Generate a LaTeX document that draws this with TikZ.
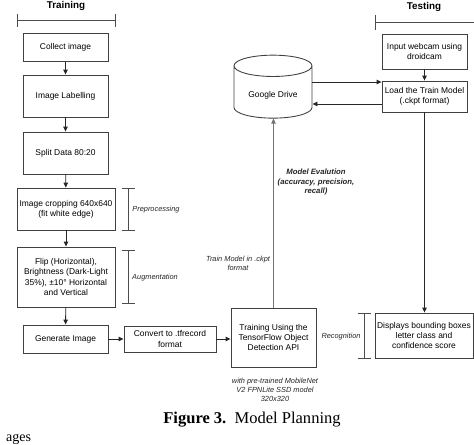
\documentclass[tikz,border=0pt]{standalone}
\usepackage{fontspec}
\setsansfont{Liberation Sans}
\newfontfamily\capfont{Liberation Serif}
\usepackage{tikz}
\usetikzlibrary{arrows.meta, positioning, shapes.geometric}

\begin{document}
\begin{tikzpicture}[
    x=0.02cm, y=-0.02cm,
    font=\sffamily\fontsize{4.8}{5.8}\selectfont,
    box/.style={draw=black!75, line width=0.5pt, align=center, inner sep=1pt},
    db/.style={draw=black!75, line width=0.5pt, cylinder, shape border rotate=90, aspect=0.35, minimum width=1.56cm, minimum height=1.26cm},
    arr/.style={-{Triangle[length=0.1cm, width=0.09cm]}, line width=0.5pt, black!85},
    brk/.style={{Bar[width=0.26cm]}-{Bar[width=0.26cm]}, line width=0.5pt, black!70},
    note/.style={font=\sffamily\itshape\fontsize{4.2}{5.2}\selectfont, align=center, black!85},
    head/.style={font=\sffamily\bfseries\fontsize{5.6}{6.6}\selectfont},
]
\useasboundingbox (0,0) rectangle (474,444);

% --- Training column (left) ---
\node[box, minimum width=1.7cm, minimum height=0.56cm] (collect) at (65.5, 47.5) {Collect image};
\node[box, minimum width=1.7cm, minimum height=0.84cm] (label) at (65.5, 96) {Image Labelling};
\node[box, minimum width=1.7cm, minimum height=0.84cm] (split) at (65.5, 153) {Split Data 80:20};
\node[box, minimum width=1.96cm, minimum height=0.84cm] (crop) at (66, 209) {Image cropping 640x640 \\ (fit white edge)};
\node[box, minimum width=1.96cm, minimum height=1.2cm] (flip) at (66, 277) {Flip (Horizontal), \\ Brightness (Dark-Light \\ 35\%), ±10° Horizontal \\ and Vertical};
\node[box, minimum width=1.7cm, minimum height=0.56cm] (gen) at (65.5, 339) {Generate Image};
\node[box, minimum width=1.84cm, minimum height=0.52cm] (conv) at (170, 339) {Convert to .tfrecord \\ format};
\node[box, minimum width=1.7cm, minimum height=1.18cm] (train) at (273.5, 337.5) {Training Using the \\ TensorFlow Object \\ Detection API};

% --- Storage ---
\node[db] (drive) at (273, 95) {Google Drive};

% --- Testing column (right) ---
\node[box, minimum width=1.7cm, minimum height=0.7cm] (input) at (424.5, 51.5) {Input webcam using \\ droidcam};
\node[box, minimum width=1.7cm, minimum height=0.62cm] (load) at (424.5, 96.5) {Load the Train Model \\ (.ckpt format)};
\node[box, minimum width=1.96cm, minimum height=0.9cm] (disp) at (424, 335.5) {Displays bounding boxes \\ letter class and \\ confidence score};

% --- Headers ---
\node[head] (trainhead) at (66, 6) {Training};
\node[head] (testhead) at (424, 7) {Testing};
\draw[brk] ([yshift=0.26cm]crop.west |- collect.north) -- ([yshift=0.26cm]crop.east |- collect.north);
\draw[{Bar[width=0.3cm]}-, line width=0.5pt, black!70] ([yshift=0.22cm]disp.west |- input.north) -- ([yshift=0.22cm,xshift=0.04cm]disp.east |- input.north);

% --- Main flow ---
\draw[arr] (collect) -- (label);
\draw[arr] (label) -- (split);
\draw[arr] (split) -- (crop);
\draw[arr] (crop) -- (flip);
\draw[arr] (flip) -- (gen);
\draw[arr] (gen) -- (conv);
\draw[arr] (conv.east) -- (conv.east -| train.west);
\draw[arr, black!55] (train.north) -- (train.north |- drive.south);
\coordinate (dout) at ([yshift=0.26cm]drive.east);
\coordinate (din) at ([yshift=-0.18cm]drive.east);
\draw[arr] (dout) -- (dout -| load.west);
\draw[arr] (din -| load.west) -- (din);
\draw[arr] (input) -- (load);
\draw[arr] (load.south) -- (load.south |- disp.north);

% --- Stage brackets ---
\draw[brk] ([xshift=0.26cm]crop.north east) -- ([xshift=0.26cm]crop.south east);
\draw[brk] ([xshift=0.26cm,yshift=-0.06cm]flip.north east) -- ([xshift=0.26cm,yshift=0.08cm]flip.south east);
\draw[brk] ([xshift=-0.2cm]disp.north west) -- ([xshift=-0.2cm]disp.south west);
\node[note] (prep) at (156, 210) {Preprocessing};
\node[note] (aug) at (155, 278) {Augmentation};
\node[note] (recog) at (341, 337) {Recognition};

% --- Labels ---
\node[note] (ckpt) at (238, 263) {Train Model in .ckpt \\ format};
\node[note, font=\sffamily\bfseries\itshape\fontsize{4.4}{5.4}\selectfont] (evalu) at (316, 182) {Model Evalution \\ (accuracy, precision, \\ recall)};
\node[note] (pre) at (275, 390) {with pre-trained MobileNet \\ V2 FPNLite SSD model \\ 320x320};

% --- Caption ---
\node[font=\capfont\fontsize{9.4}{11}\selectfont] (cap) at (252, 420) {\textbf{Figure 3.}\enspace Model Planning};
\node[font=\capfont\fontsize{8}{9}\selectfont, anchor=base west] (cut) at (0, 441) {ages};

\end{tikzpicture}
\end{document}
